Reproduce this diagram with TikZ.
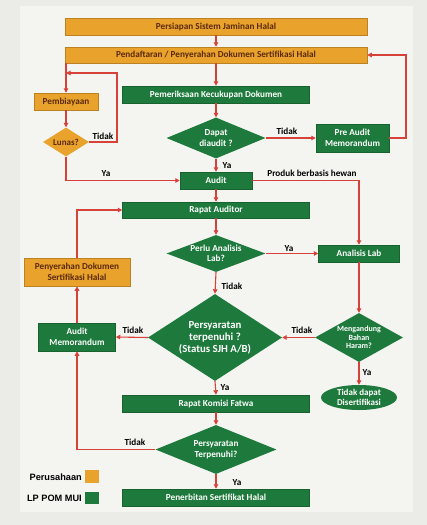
\documentclass[tikz,border=0pt]{standalone}
\usepackage{fontspec}
\setmainfont{Carlito}
\newfontfamily\legendfont{Liberation Sans}
\usetikzlibrary{shapes.geometric,arrows.meta}
\definecolor{hgreen}{HTML}{1E7A3C}
\definecolor{horange}{HTML}{E9A22B}
\definecolor{hred}{HTML}{D8403A}
\definecolor{hbg}{HTML}{EBEBE7}
\definecolor{hpanel}{HTML}{F4F4F1}
\definecolor{hbrown}{HTML}{5A2A10}
\tikzset{
  gbox/.style={rectangle, fill=hgreen, draw=hgreen!80!black, line width=0.5pt, text=white,
    font=\bfseries\fontsize{9.2}{10.5}\selectfont, inner sep=0pt, align=center},
  obox/.style={rectangle, fill=horange, draw=horange!80!black, line width=0.5pt, text=hbrown,
    font=\bfseries\fontsize{9.2}{10.5}\selectfont, inner sep=0pt, align=center},
  gdia/.style={diamond, fill=hgreen, text=white, font=\bfseries\fontsize{9.2}{10.5}\selectfont,
    inner sep=-3pt, align=center},
  odia/.style={diamond, fill=horange, text=hbrown, font=\bfseries\fontsize{9}{10.5}\selectfont,
    inner sep=-3pt, align=center},
  gell/.style={ellipse, fill=hgreen, text=white, font=\bfseries\fontsize{9}{10}\selectfont,
    inner sep=-2pt, align=center},
  arr/.style={draw=hred, line width=1.1pt, -{Triangle[length=4.5pt,width=4.5pt]}},
  lbl/.style={font=\bfseries\fontsize{9.2}{10}\selectfont, text=black, inner sep=0pt},
  leg/.style={font=\legendfont\bfseries\fontsize{9.2}{10}\selectfont, text=black, inner sep=0pt, anchor=east},
}
\begin{document}
\begin{tikzpicture}[x=1pt,y=-1pt]
\useasboundingbox (0,0) rectangle (427,525);
\fill[hbg] (0,0) rectangle (427,525);
\fill[hpanel] (20,6) rectangle (413,512);

% nodes
\node[obox, minimum width=302pt, minimum height=17pt] (persiapan) at (216,26.5) {Persiapan Sistem Jaminan Halal};
\node[obox, minimum width=302pt, minimum height=16pt] (pendaftaran) at (216,55) {Pendaftaran / Penyerahan Dokumen Sertifikasi Halal};
\node[gbox, minimum width=187pt, minimum height=17pt] (pemeriksaan) at (216,94.5) {Pemeriksaan Kecukupan Dokumen};
\node[obox, minimum width=64pt, minimum height=17pt] (pembiayaan) at (66,101.5) {Pembiayaan};
\node[odia, shape aspect=1.59, minimum width=46pt, minimum height=29pt] (lunas) at (66,142) {Lunas?};
\node[gdia, shape aspect=2.41, minimum width=99pt, minimum height=41pt] (dapat) at (216,138) {Dapat\\diaudit ?};
\node[gbox, minimum width=73pt, minimum height=28pt] (preaudit) at (352.5,138) {Pre Audit\\Memorandum};
\node[gbox, minimum width=72pt, minimum height=17pt] (audit) at (216,180.5) {Audit};
\node[gbox, minimum width=187pt, minimum height=16pt] (rapatauditor) at (216,210) {Rapat Auditor};
\node[gdia, shape aspect=2.68, minimum width=99pt, minimum height=37pt] (perlu) at (216,253.5) {Perlu Analisis\\Lab?};
\node[gbox, minimum width=81pt, minimum height=17pt] (analisis) at (359,253.5) {Analisis Lab};
\node[gdia, shape aspect=1.8, minimum width=88pt, minimum height=49pt, font=\bfseries\fontsize{8}{8.5}\selectfont] (mengandung) at (359,337.5) {Mengandung\\Bahan\\Haram?};
\node[gdia, shape aspect=1.54, minimum width=134pt, minimum height=87pt, font=\bfseries\fontsize{10.8}{12}\selectfont] (persyaratan) at (215,337.5) {Persyaratan\\terpenuhi ?\\(Status SJH A/B)};
\node[gbox, minimum width=77pt, minimum height=28pt] (auditmemo) at (77,337) {Audit\\Memorandum};
\node[obox, minimum width=106pt, minimum height=28pt] (penyerahan) at (77,272) {Penyerahan Dokumen\\Sertifikasi Halal};
\node[gell, minimum width=76pt, minimum height=25pt] (tidakdapat) at (359,397.5) {Tidak dapat\\Disertifikasi};
\node[gbox, minimum width=187pt, minimum height=17pt] (rapatkomisi) at (216,403.5) {Rapat Komisi Fatwa};
\node[gdia, shape aspect=2.47, minimum width=121pt, minimum height=49pt] (persyaratan2) at (216,449.5) {Persyaratan\\Terpenuhi?};
\node[gbox, minimum width=187pt, minimum height=17pt] (penerbitan) at (216,497.5) {Penerbitan Sertifikat Halal};

% helper coordinates
\coordinate (lt) at (117,73);
\coordinate (lj) at (66,73);
\coordinate (pr) at (406,138);

% connectors
\draw[arr] (persiapan) -- (pendaftaran);
\draw[arr] (pendaftaran) -- (pemeriksaan);
\draw[arr] (pendaftaran.south -| pembiayaan) -- (pembiayaan.north);
\draw[arr] (pembiayaan) -- (lunas);
\draw[arr] (lunas.east) -| (lt) -- (lj);
\draw[arr] (lunas.south) |- (audit.west);
\draw[arr] (pemeriksaan) -- (dapat);
\draw[arr] (dapat.east) -- (preaudit.west);
\draw[arr] (preaudit.east) -- (pr) |- (pendaftaran.east);
\draw[arr] (dapat.south) -- (audit.north);
\draw[arr] (audit.east) -| (analisis.north);
\draw[arr] (audit) -- (rapatauditor);
\draw[arr] (rapatauditor) -- (perlu);
\draw[arr] (perlu.east) -- (analisis.west);
\draw[arr] (perlu.south) -- (persyaratan.north);
\draw[arr] (analisis) -- (mengandung);
\draw[arr] (mengandung.west) -- (persyaratan.east);
\draw[arr] (mengandung.south) -- (tidakdapat.north);
\draw[arr] (persyaratan.west) -- (auditmemo.east);
\draw[arr] (auditmemo) -- (penyerahan);
\draw[arr] (penyerahan.north) |- (rapatauditor.west);
\draw[arr] (persyaratan.south) -- (rapatkomisi.north);
\draw[arr] (rapatkomisi) -- (persyaratan2);
\draw[arr] (persyaratan2.west) -| (auditmemo.south);
\draw[arr] (persyaratan2.south) -- (penerbitan.north);

% labels
\node[lbl] (tidak1) at (103,136) {Tidak};
\node[lbl] (ya1) at (106,174) {Ya};
\node[lbl] (tidak2) at (287,131) {Tidak};
\node[lbl] (ya2) at (227,166) {Ya};
\node[lbl] (produk) at (312,173) {Produk berbasis hewan};
\node[lbl] (ya3) at (289,249) {Ya};
\node[lbl] (tidak3) at (232,286) {Tidak};
\node[lbl] (tidak4) at (302,330) {Tidak};
\node[lbl] (tidak5) at (133,330) {Tidak};
\node[lbl] (ya4) at (367,373) {Ya};
\node[lbl] (ya5) at (225,388) {Ya};
\node[lbl] (tidak6) at (135,442) {Tidak};
\node[lbl] (ya6) at (237,483) {Ya};

% legend
\node[leg] (legp) at (82,477) {Perusahaan};
\node[leg] (legl) at (82,498) {LP POM MUI};
\node[rectangle, fill=horange, minimum width=14pt, minimum height=13pt, inner sep=0pt] (sqo) at (92,476) {};
\node[rectangle, fill=hgreen, minimum width=14pt, minimum height=12pt, inner sep=0pt] (sqg) at (92,497.5) {};
\end{tikzpicture}
\end{document}
